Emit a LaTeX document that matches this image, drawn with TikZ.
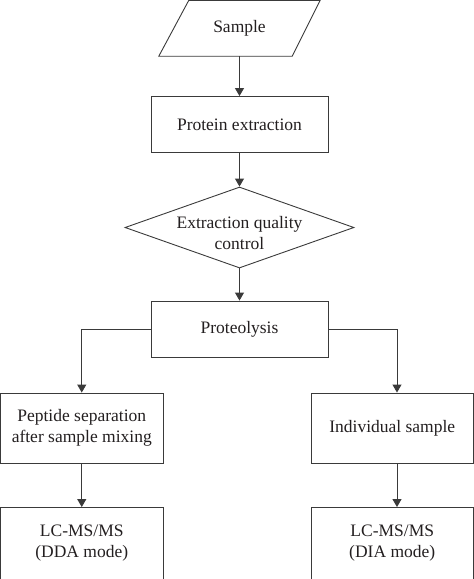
\documentclass[tikz,border=0pt]{standalone}
\usepackage{fontspec}
\setmainfont{Liberation Serif}
\usepackage{tikz}
\usetikzlibrary{shapes.geometric}
\usetikzlibrary{arrows.meta}
\definecolor{linegray}{HTML}{3A3A3A}
\definecolor{textgray}{HTML}{231F20}
\tikzset{
  flowline/.style={draw=linegray, line width=0.9pt},
  flowtext/.style={text=textgray, align=center, inner sep=0,
    font=\fontsize{17.5}{20.5}\selectfont},
  flowbox/.style={flowline, flowtext},
  flowarrow/.style={flowline, -{Triangle[width=9pt,length=8pt]}}
}

\begin{document}
\begin{tikzpicture}[x=1pt, y=-1pt]
  \useasboundingbox (0, 0) rectangle (474, 579);

  % input
  \node[flowtext, minimum width=161pt, minimum height=55.5pt]
    at (239.5, 28.25) (sample) {Sample};
  \draw[flowline] ([xshift=30pt]sample.north west) -- (sample.north east)
    -- ([xshift=-28pt]sample.south east) -- (sample.south west) -- cycle;

  \node[flowbox, minimum width=177pt, minimum height=56pt]
    at (239.5, 124.5) (extract) {Protein extraction};
  \node[flowline, diamond, aspect=2.83, inner sep=0,
    minimum width=229pt, minimum height=81pt]
    at (239.5, 227.5) (quality) {};
  \node[flowtext] at (239.5, 233) (qualitytext) {Extraction quality\\control};
  \node[flowbox, minimum width=177pt, minimum height=56pt]
    at (239.5, 329) (prot) {Proteolysis};

  % two branches
  \node[flowbox, minimum width=162.5pt, minimum height=70pt]
    at (81.75, 428) (mixing) {Peptide separation\\after sample mixing};
  \node[flowbox, minimum width=162.5pt, minimum height=70pt]
    at (392.25, 428) (indiv) {Individual sample};
  \node[flowline, minimum width=162.5pt, minimum height=84pt]
    at (81.75, 549.5) (dda) {};
  \node[flowline, minimum width=162.5pt, minimum height=84pt]
    at (392.25, 549.5) (dia) {};
  \node[flowtext] at (81.75, 543) (ddatext) {LC-MS/MS\\(DDA mode)};
  \node[flowtext] at (392.25, 543) (diatext) {LC-MS/MS\\(DIA mode)};

  \draw[flowarrow] (sample) -- (extract);
  \draw[flowarrow] (extract) -- (quality);
  \draw[flowarrow] (quality) -- (prot);
  \draw[flowarrow] (prot.west) -| (mixing.north);
  \draw[flowarrow] (prot.east) -| ([xshift=4.75pt]indiv.north);
  \draw[flowarrow] (mixing) -- (dda);
  \draw[flowarrow] ([xshift=4.75pt]indiv.south) -- ([xshift=4.75pt]dia.north);
\end{tikzpicture}
\end{document}
